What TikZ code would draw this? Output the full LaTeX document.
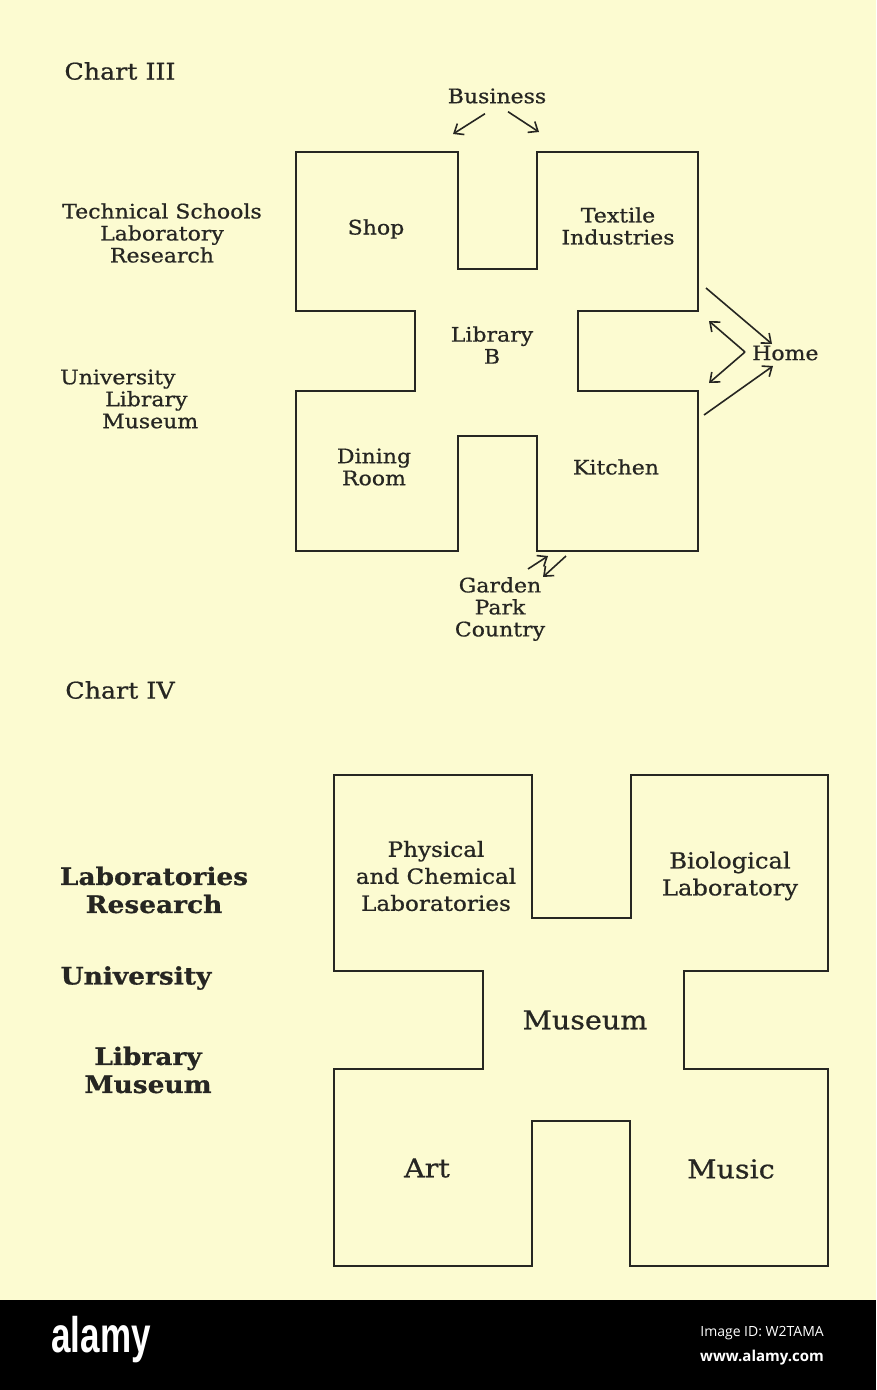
\documentclass[tikz,border=0pt]{standalone}
\usepackage{fontspec}
\setmainfont{DejaVu Serif}[FakeStretch=1.1, FakeBold=0.7]
\newfontfamily\bandfont{Open Sans}
\newfontfamily\logofont{Liberation Sans}[FakeStretch=0.7]
\usetikzlibrary{arrows.meta, calc}
\definecolor{cPaper}{RGB}{252,251,209}
\definecolor{cInk}{RGB}{38,38,34}
\tikzset{
	wall/.style={draw=cInk, line width=2.2pt, line join=miter},
	lbl/.style={text=cInk, align=center, inner sep=0pt, font=\fontsize{20}{22}\selectfont},
	chartlbl/.style={text=cInk, inner sep=0pt, font=\fontsize{23}{26}\selectfont},
	biglbl/.style={text=cInk, align=center, inner sep=0pt, font=\bfseries\fontsize{24}{28}\selectfont},
	roomlbl/.style={text=cInk, align=center, inner sep=0pt, font=\fontsize{21}{27}\selectfont},
	hallbl/.style={text=cInk, align=center, inner sep=0pt, font=\fontsize{26}{28}\selectfont},
	arr/.style={draw=cInk, line width=1.6pt, -{Straight Barb[length=8pt,width=13pt]}},
}

\begin{document}
\begin{tikzpicture}[x=1pt, y=-1pt]
	\useasboundingbox (0,0) rectangle (876,1390);
	\fill[cPaper] (0,0) rectangle (876,1300);
	\fill[black] (0,1300) rectangle (876,1390);

	% chart III
	\node[chartlbl] (c3) at (120,71) {Chart III};
	\draw[wall] (296,152) -- (458,152) -- (458,269) -- (537,269) -- (537,152) -- (698,152)
		-- (698,311) -- (578,311) -- (578,391) -- (698,391) -- (698,551) -- (537,551)
		-- (537,436) -- (458,436) -- (458,551) -- (296,551) -- (296,391) -- (415,391)
		-- (415,311) -- (296,311) -- cycle;
	\node[lbl] (tech) at (162,233) {Technical Schools\\Laboratory\\Research};
	\node[lbl, align=left, anchor=west] (univ) at (60,399) {University\\\hspace{45pt}Library\\\hspace{42pt}Museum};
	\node[lbl] (shop) at (376,229) {Shop};
	\node[lbl] (textile) at (618,226) {Textile\\Industries};
	\node[lbl] (lib) at (492,345) {Library\\B};
	\node[lbl] (dining) at (374,467) {Dining\\Room};
	\node[lbl] (kitchen) at (616,467) {Kitchen};
	\node[lbl] (bus) at (497,96) {Business};
	\node[lbl, anchor=west] (home) at (752,353) {Home};
	\node[lbl] (garden) at (500,609) {Garden\\Park\\Country};

	\coordinate (busl) at (453,134);
	\coordinate (busr) at (539,132);
	\draw[arr] ($(bus.south)+(-12,10)$) -- (busl);
	\draw[arr] ($(bus.south)+(11,8)$) -- (busr);
	\coordinate (hv) at ($(home.west)+(-7,-1)$);
	\coordinate (hup) at (709,321);
	\coordinate (hdn) at (709,383);
	\draw[arr] (706,288) -- ($(home.west)+(20,-9)$);
	\draw[arr] (hv) -- (hup);
	\draw[arr] (hv) -- (hdn);
	\draw[arr] (704,415) -- ($(home.west)+(21,13)$);
	\coordinate (gup) at (548,556);
	\coordinate (gdn) at (566,556);
	\draw[arr] ($(garden.north)+(28,-8)$) -- (gup);
	\draw[arr] (gdn) -- ($(garden.north)+(43,0)$);

	% chart IV
	\node[chartlbl] (c4) at (120,690) {Chart IV};
	\draw[wall] (334,775) -- (532,775) -- (532,918) -- (631,918) -- (631,775) -- (828,775)
		-- (828,971) -- (684,971) -- (684,1069) -- (828,1069) -- (828,1266) -- (630,1266)
		-- (630,1121) -- (532,1121) -- (532,1266) -- (334,1266) -- (334,1069) -- (483,1069)
		-- (483,971) -- (334,971) -- cycle;
	\node[biglbl] (labs) at (154,890) {Laboratories\\Research};
	\node[biglbl] (univ4) at (136,978) {University};
	\node[biglbl] (libm) at (148,1070) {Library\\Museum};
	\node[roomlbl] (phys) at (436,876) {Physical\\and Chemical\\Laboratories};
	\node[roomlbl, font=\fontsize{22}{27}\selectfont] (bio) at (730,876) {Biological\\Laboratory};
	\node[hallbl] (mus) at (585,1020) {Museum};
	\node[hallbl] (art) at (427,1168) {Art};
	\node[hallbl] (music) at (731,1169) {Music};

	% band
	\node[text=white, inner sep=0pt, font=\logofont\bfseries\fontsize{50}{50}\selectfont] (logo) at (101,1340) {alamy};
	\node[text=white, inner sep=0pt, anchor=east, font=\bandfont\fontsize{14}{14}\selectfont] (imgid) at (824,1333) {Image ID: W2TAMA};
	\node[text=white, inner sep=0pt, anchor=east, font=\bandfont\bfseries\fontsize{15}{15}\selectfont] (www) at (824,1358) {www.alamy.com};
\end{tikzpicture}
\end{document}
